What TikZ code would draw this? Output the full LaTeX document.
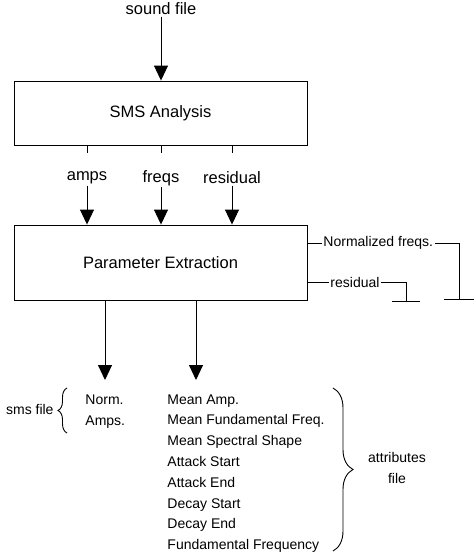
\documentclass[tikz,border=0pt]{standalone}
\usepackage{fontspec}
\setmainfont{Liberation Sans}
\usetikzlibrary{arrows.meta,positioning,decorations.pathreplacing}
\tikzstyle{block} = [
	rectangle,
	minimum width = 293pt,
	draw,
	font = \fontsize{16.5}{19}\selectfont
	]
\tikzstyle{lbl} = [
	inner sep = 1pt,
	font = \fontsize{16.5}{19}\selectfont
	]
\tikzstyle{small} = [
	inner sep = 1pt,
	font = \fontsize{14}{20.8}\selectfont
	]
\tikzstyle{flow} = [
	-{Triangle[length=15pt,width=14pt]},
	draw
	]
\tikzstyle{brc} = [
	decorate,
	decoration = {brace, amplitude = 9pt},
	draw
	]

\begin{document}
\begin{tikzpicture}[x=1pt,y=-1pt,line width=0.9pt]
	\useasboundingbox (0,0) rectangle (474,555);
	\node[lbl] (snd) at (161,9) {sound file};
	\node[block, minimum height = 64pt] (sms) at (160.5,113) {SMS Analysis};
	\draw[flow] (snd) -- (sms.north -| snd);
	\node[lbl] (amps) at (87,178) {amps};
	\node[lbl] (freqs) at (161,178) {freqs};
	\node[lbl] (res) at (232,178) {residual};
	\node[block, minimum height = 75pt] (pe) at (160.5,262.5) {Parameter Extraction};
	\draw (sms.south -| amps) -- ++(0,8);\draw[flow] (amps) -- (pe.north -| amps);
	\draw (sms.south -| freqs) -- ++(0,8);\draw[flow] (freqs) -- (pe.north -| freqs);
	\draw (sms.south -| res) -- ++(0,8);\draw[flow] (res) -- (pe.north -| res);
	% side outputs
	\node[small, anchor=west] (nf) at (322,243) {Normalized freqs.};
	\node[small, anchor=west] (pres) at (329,282) {residual};
	\coordinate (g1) at (459,299);
	\coordinate (g2) at (406,301);
	\draw (pe.east |- nf) -- (nf);
	\draw (nf) -| (g1);
	\draw ([xshift=-15pt]g1) -- ([xshift=15pt]g1);
	\draw (pe.east |- pres) -- (pres);
	\draw (pres) -| (g2);
	\draw ([xshift=-14pt]g2) -- ([xshift=14pt]g2);
	% outputs
	\coordinate (a1) at (105,380);
	\coordinate (a2) at (196,380);
	\draw[flow] (pe.south -| a1) -- (a1);
	\draw[flow] (pe.south -| a2) -- (a2);
	\node[small, anchor=base west] (nrm) at (84,404) {Norm.};
	\node[small, anchor=base west] (amp) at (84,425) {Amps.};
	\foreach \txt [count=\i from 0] in {Mean Amp., Mean Fundamental Freq., Mean Spectral Shape, Attack Start, Attack End, Decay Start, Decay End, Fundamental Frequency}
		\node[small, anchor=base west] (m\i) at (166,{404+20.8*\i}) {\txt};
	\draw[brc] (67,433) -- (67,388);
	\node[small, anchor=east] (sms file) at (55,409) {sms file};
	\draw[brc, decoration = {brace, amplitude = 20pt}] (333,388) -- (333,551);
	\node[small, align=center] (attr) at (397,468) {attributes\\file};
\end{tikzpicture}
\end{document}
